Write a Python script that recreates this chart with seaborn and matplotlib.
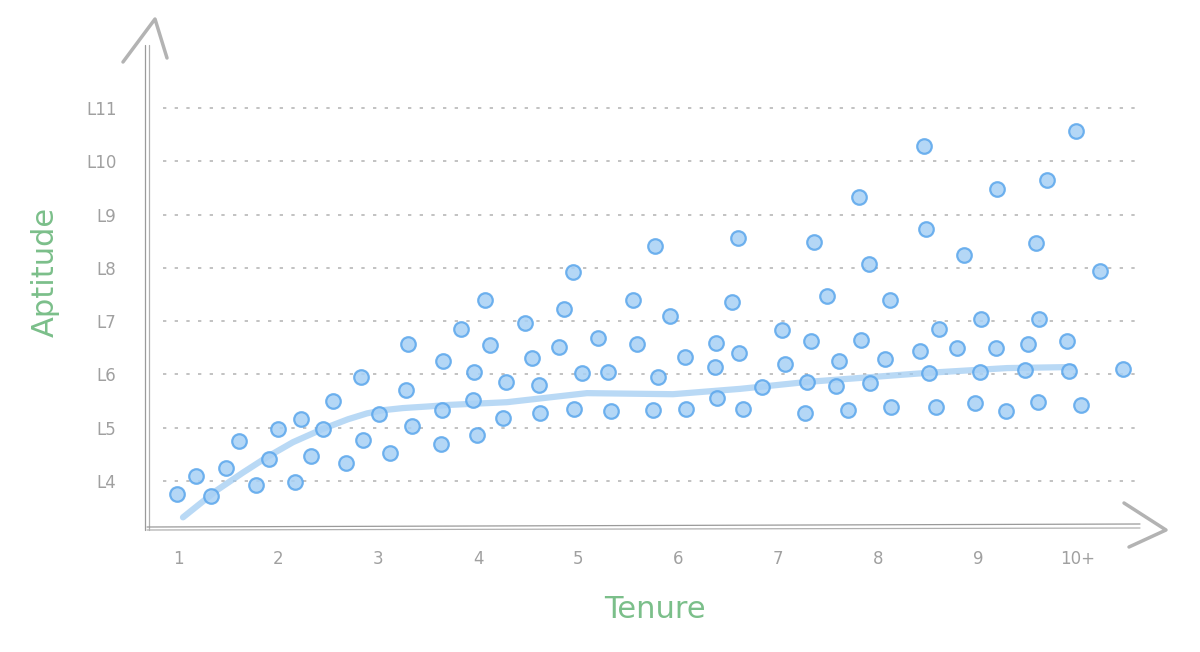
import matplotlib
matplotlib.use('Agg')
import matplotlib.pyplot as plt
from matplotlib.lines import Line2D
import seaborn as sns
import pandas as pd

# tenure (years) and aptitude level of each person
tenure = [0.99, 1.18, 1.33, 1.48, 1.61, 1.78, 1.91, 2.00, 2.17, 2.23,
          2.33, 2.45, 2.55, 2.68, 2.83, 2.85, 3.01, 3.12, 3.28, 3.30,
          3.34, 3.63, 3.64, 3.65, 3.83, 3.96, 3.95, 3.99, 4.07, 4.12,
          4.25, 4.28, 4.47, 4.54, 4.61, 4.62, 4.81, 4.86, 4.95, 4.96,
          5.04, 5.20, 5.30, 5.33, 5.55, 5.59, 5.75, 5.77, 5.80, 5.92,
          6.07, 6.08, 6.37, 6.38, 6.39, 6.54, 6.60, 6.61, 6.65, 6.84,
          7.04, 7.07, 7.27, 7.29, 7.33, 7.36, 7.49, 7.58, 7.61, 7.70,
          7.81, 7.83, 7.91, 7.92, 8.07, 8.12, 8.13, 8.42, 8.46, 8.48,
          8.51, 8.58, 8.61, 8.79, 8.86, 8.97, 9.02, 9.03, 9.18, 9.19,
          9.28, 9.47, 9.50, 9.58, 9.60, 9.61, 9.69, 9.89, 9.91, 9.98,
          10.03, 10.22, 10.45]
aptitude = [3.76, 4.09, 3.72, 4.24, 4.75, 3.92, 4.41, 4.98, 3.98, 5.16,
            4.47, 4.98, 5.50, 4.34, 5.95, 4.77, 5.26, 4.53, 5.71, 6.57,
            5.03, 4.69, 5.33, 6.25, 6.85, 6.05, 5.52, 4.86, 7.40, 6.55,
            5.18, 5.86, 6.96, 6.31, 5.80, 5.28, 6.51, 7.23, 7.92, 5.35,
            6.03, 6.68, 6.05, 5.31, 7.40, 6.57, 5.33, 8.41, 5.95, 7.10,
            6.33, 5.35, 6.14, 6.59, 5.56, 7.36, 8.56, 6.40, 5.35, 5.76,
            6.83, 6.20, 5.28, 5.86, 6.63, 8.48, 7.47, 5.78, 6.25, 5.33,
            9.33, 6.65, 8.07, 5.84, 6.29, 7.40, 5.39, 6.44, 10.29, 8.73,
            6.03, 5.39, 6.85, 6.50, 8.24, 5.46, 6.05, 7.04, 6.50, 9.48,
            5.31, 6.08, 6.57, 8.47, 5.48, 7.04, 9.65, 6.63, 6.06, 10.57,
            5.43, 7.94, 6.10]

# trend curve
trend_x = [1.05, 1.39, 1.65, 1.89, 2.15, 2.45, 2.70, 2.89, 3.05, 3.25,
           3.50, 3.72, 4.29, 5.09, 5.95, 6.62, 7.29, 8.49, 9.29, 9.95]
trend_y = [3.32, 3.83, 4.16, 4.45, 4.73, 4.98, 5.16, 5.27, 5.33, 5.37,
           5.40, 5.43, 5.48, 5.65, 5.63, 5.73, 5.86, 6.03, 6.12, 6.14]

x_ticks = [1, 2, 3, 4, 5, 6, 7, 8, 9, 10]
x_labels = ['1', '2', '3', '4', '5', '6', '7', '8', '9', '10+']
y_ticks = [4, 5, 6, 7, 8, 9, 10, 11]
y_labels = ['L4', 'L5', 'L6', 'L7', 'L8', 'L9', 'L10', 'L11']

GREEN = '#7bbf8a'

sns.set_style('white')
plt.rcParams['font.family'] = ['DejaVu Sans']

df = pd.DataFrame({'Tenure': tenure, 'Aptitude': aptitude})
trend = pd.DataFrame({'Tenure': trend_x, 'Aptitude': trend_y})

W, H = 1200, 652
fig = plt.figure(figsize=(12, 6.52), dpi=100)
ax = fig.add_axes([147 / W, 1 - 528 / H, (1165 - 147) / W, (528 - 20) / H])

sns.lineplot(data=trend, x='Tenure', y='Aptitude', ax=ax, color='#9cc9f2',
             lw=4.5, alpha=0.7, solid_capstyle='round',
             solid_joinstyle='round', zorder=2)
sns.scatterplot(data=df, x='Tenure', y='Aptitude', ax=ax, s=110,
                color='#a7d0f5', edgecolor='#5aa6ec', linewidth=1.6,
                alpha=0.85, zorder=3)

ax.set_xlim(0.69, 10.87)
ax.set_ylim(3.12, 12.65)

for yv in y_ticks:
    ax.axhline(yv, xmin=0.016, xmax=0.975, color='#b8b8b8', lw=1.2,
               linestyle=(0, (2, 5)), zorder=1)

for side in ['top', 'right', 'left', 'bottom']:
    ax.spines[side].set_visible(False)

ax.set_xticks(x_ticks)
ax.set_xticklabels(x_labels)
ax.set_yticks(y_ticks)
ax.set_yticklabels(y_labels)
ax.tick_params(axis='both', length=0, colors='#a0a0a0', labelsize=12)
ax.tick_params(axis='x', pad=16)
ax.tick_params(axis='y', pad=22)
ax.set_xlabel('')
ax.set_ylabel('')

# hand drawn looking axes with open arrow heads (figure pixels)
def px_line(xs, ys, **kw):
    fig.add_artist(Line2D([x / W for x in xs], [1 - y / H for y in ys],
                          transform=fig.transFigure, **kw))

px_line([145, 145], [530, 45], color='#9a9a9a', lw=0.9)
px_line([149, 149], [530, 45], color='#b0b0b0', lw=0.9)
px_line([147, 1140], [527, 524], color='#9a9a9a', lw=0.9)
px_line([147, 1140], [530, 528], color='#b0b0b0', lw=0.9)
px_line([123, 155, 167], [62, 19, 58], color='#b3b3b3', lw=2.5,
        solid_joinstyle='round', solid_capstyle='round')
px_line([1124, 1166, 1129], [503, 530, 547], color='#b3b3b3', lw=2.5,
        solid_joinstyle='round', solid_capstyle='round')

fig.text(655 / W, 1 - 610 / H, 'Tenure', color=GREEN, fontsize=22,
         ha='center', va='center')
fig.text(45 / W, 1 - 272 / H, 'Aptitude', color=GREEN, fontsize=22,
         ha='center', va='center', rotation=90)

fig.savefig('out.png', dpi=100, facecolor='white')
